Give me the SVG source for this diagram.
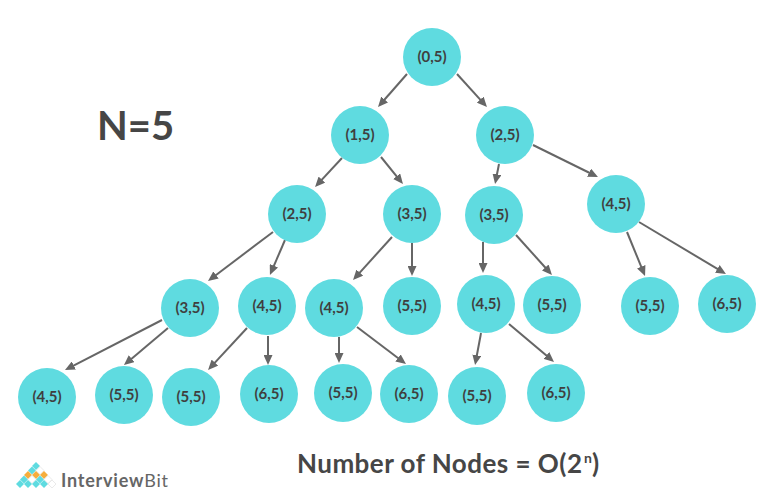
<svg xmlns="http://www.w3.org/2000/svg" width="768" height="500" viewBox="0 0 768 500">
<style>
.n circle{fill:#5fdbe0}
.n text{font-family:Lato,"Liberation Sans",sans-serif;font-size:15px;font-weight:700;fill:#3f3f3f;text-anchor:middle}
#edges line{stroke:#666;stroke-width:2;marker-end:url(#ah)}
.lbl{font-family:Lato,"Liberation Sans",sans-serif;font-weight:700;fill:#464646}
.t{fill:#5fdbe0}.o{fill:#f6ad3c}.w{fill:#fff;stroke:#dcdcdc;stroke-width:0.6}
</style>
<defs>
<marker id="ah" markerUnits="userSpaceOnUse" markerWidth="10" markerHeight="9" refX="2" refY="4.5" orient="auto">
<path d="M0,0 L10,4.5 L0,9 z" fill="#666"/>
</marker>
<path id="dm" d="M0,-4 L4,0 L0,4 L-4,0 z"/>
</defs>
<rect width="768" height="500" fill="#fff"/>
<g id="edges">
<line x1="407" y1="74" x2="383.3" y2="101"/>
<line x1="457" y1="74" x2="481.6" y2="101.1"/>
<line x1="342" y1="158" x2="320.5" y2="181.1"/>
<line x1="381" y1="157" x2="397.9" y2="177.8"/>
<line x1="499" y1="164" x2="496.6" y2="176.2"/>
<line x1="533" y1="145" x2="590.8" y2="173.5"/>
<line x1="273" y1="232" x2="214.4" y2="276.2"/>
<line x1="285" y1="240" x2="273.1" y2="267.6"/>
<line x1="392" y1="237" x2="358.4" y2="274.1"/>
<line x1="412" y1="243" x2="412" y2="268"/>
<line x1="483" y1="242" x2="483" y2="265"/>
<line x1="516" y1="235" x2="546.6" y2="269"/>
<line x1="627" y1="232" x2="642" y2="268.6"/>
<line x1="639" y1="222" x2="719.1" y2="269.9"/>
<line x1="162" y1="320" x2="72.1" y2="366.3"/>
<line x1="168" y1="328" x2="130.1" y2="359.9"/>
<line x1="247" y1="328" x2="213.5" y2="364.1"/>
<line x1="268" y1="336" x2="268" y2="357"/>
<line x1="339" y1="337" x2="339" y2="355"/>
<line x1="357" y1="327" x2="399.6" y2="359.2"/>
<line x1="481" y1="333" x2="476.5" y2="357.2"/>
<line x1="509" y1="324" x2="547.9" y2="356.8"/>
</g>
<g id="n0" class="n"><circle cx="432" cy="57" r="29"/><text x="432" y="62">(0,5)</text></g>
<g id="n1" class="n"><circle cx="360" cy="135" r="29"/><text x="360" y="140">(1,5)</text></g>
<g id="n2" class="n"><circle cx="505" cy="135" r="29"/><text x="505" y="140">(2,5)</text></g>
<g id="n3" class="n"><circle cx="297" cy="214" r="29"/><text x="297" y="219">(2,5)</text></g>
<g id="n4" class="n"><circle cx="412" cy="214" r="29"/><text x="412" y="219">(3,5)</text></g>
<g id="n5" class="n"><circle cx="494" cy="215" r="29"/><text x="494" y="220">(3,5)</text></g>
<g id="n6" class="n"><circle cx="616" cy="204" r="29"/><text x="616" y="209">(4,5)</text></g>
<g id="n7" class="n"><circle cx="190" cy="308" r="29"/><text x="190" y="313">(3,5)</text></g>
<g id="n8" class="n"><circle cx="267" cy="306" r="29"/><text x="267" y="311">(4,5)</text></g>
<g id="n9" class="n"><circle cx="334" cy="308" r="29"/><text x="334" y="313">(4,5)</text></g>
<g id="n10" class="n"><circle cx="412" cy="306" r="29"/><text x="412" y="311">(5,5)</text></g>
<g id="n11" class="n"><circle cx="486" cy="304" r="29"/><text x="486" y="309">(4,5)</text></g>
<g id="n12" class="n"><circle cx="552" cy="305" r="29"/><text x="552" y="310">(5,5)</text></g>
<g id="n13" class="n"><circle cx="650" cy="306" r="29"/><text x="650" y="311">(5,5)</text></g>
<g id="n14" class="n"><circle cx="727" cy="304" r="29"/><text x="727" y="309">(6,5)</text></g>
<g id="n15" class="n"><circle cx="47" cy="397" r="29"/><text x="47" y="402">(4,5)</text></g>
<g id="n16" class="n"><circle cx="124" cy="395" r="29"/><text x="124" y="400">(5,5)</text></g>
<g id="n17" class="n"><circle cx="191" cy="397" r="29"/><text x="191" y="402">(5,5)</text></g>
<g id="n18" class="n"><circle cx="269" cy="394" r="29"/><text x="269" y="399">(6,5)</text></g>
<g id="n19" class="n"><circle cx="343" cy="393" r="29"/><text x="343" y="398">(5,5)</text></g>
<g id="n20" class="n"><circle cx="409" cy="394" r="29"/><text x="409" y="399">(6,5)</text></g>
<g id="n21" class="n"><circle cx="477" cy="396" r="29"/><text x="477" y="401">(5,5)</text></g>
<g id="n22" class="n"><circle cx="556" cy="393" r="29"/><text x="556" y="398">(6,5)</text></g>
<text class="lbl" x="97" y="140" font-size="40">N=5</text>
<text class="lbl" x="297" y="473" font-size="26" textLength="285" lengthAdjust="spacing">Number of Nodes = O(2</text>
<text class="lbl" x="584" y="463" font-size="14">n</text>
<text class="lbl" x="592" y="473" font-size="26">)</text>
<g id="logo">
<use href="#dm" class="t" x="36" y="466"/>
<use href="#dm" class="t" x="32" y="470.5"/><use href="#dm" class="w" x="40" y="470.5"/>
<use href="#dm" class="o" x="28" y="475"/><use href="#dm" class="o" x="36" y="475"/><use href="#dm" class="o" x="44" y="475"/>
<use href="#dm" class="t" x="24" y="479.5"/><use href="#dm" class="w" x="32" y="479.5"/><use href="#dm" class="t" x="40" y="479.5"/><use href="#dm" class="w" x="48" y="479.5"/>
<use href="#dm" class="t" x="20" y="484"/><use href="#dm" class="t" x="28" y="484"/><use href="#dm" class="t" x="36" y="484"/><use href="#dm" class="t" x="44" y="484"/><use href="#dm" class="w" x="52" y="484"/>
<text x="61" y="487" font-family="Lato,'Liberation Sans',sans-serif" font-size="18" fill="#666" textLength="107" lengthAdjust="spacing"><tspan font-weight="700">Interview</tspan><tspan font-weight="400">Bit</tspan></text>
</g>
</svg>
